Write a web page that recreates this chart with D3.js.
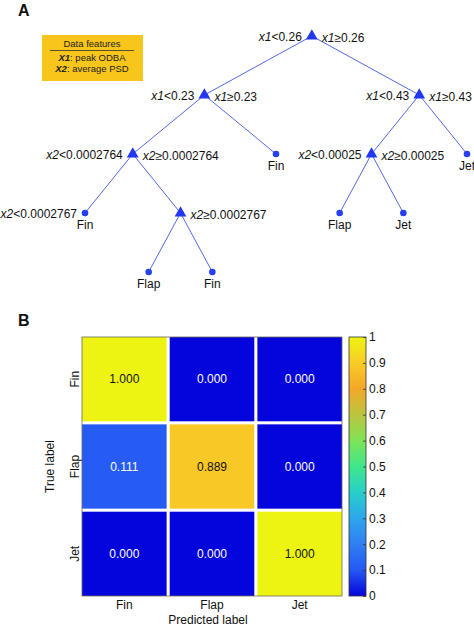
<!DOCTYPE html>
<html>
<head>
<meta charset="utf-8">
<script src="https://cdn.jsdelivr.net/npm/d3@7"></script>
<style>
  body { margin: 0; background: #fff; }
  svg { display: block; font-family: "Liberation Sans", Arial, sans-serif; }
  .branch { stroke: #5568e6; stroke-width: 1; fill: none; }
  .split-label, .leaf-label { font-size: 12px; fill: #111; }
  .cm-axis text { font-size: 12px; fill: #111; }
  .cm-axis path, .cm-axis line { stroke: #333; }
</style>
</head>
<body>
<svg id="viz"></svg>
<script>
(function () {
    // decision tree, listed depth first so children keep left-to-right order
    let treeNodes = [
        { id: 'a',  parent: null, feature: 'x1', cut: '0.26' },
        { id: 'b',  parent: 'a',  feature: 'x1', cut: '0.23' },
        { id: 'd',  parent: 'b',  feature: 'x2', cut: '0.0002764' },
        { id: 'l1', parent: 'd',  leaf: 'Fin' },
        { id: 'f',  parent: 'd',  feature: 'x2', cut: '0.0002767', leftLabelAt: 'l1' },
        { id: 'l2', parent: 'f',  leaf: 'Flap' },
        { id: 'l3', parent: 'f',  leaf: 'Fin' },
        { id: 'l4', parent: 'b',  leaf: 'Fin' },
        { id: 'c',  parent: 'a',  feature: 'x1', cut: '0.43' },
        { id: 'e',  parent: 'c',  feature: 'x2', cut: '0.00025' },
        { id: 'l5', parent: 'e',  leaf: 'Flap' },
        { id: 'l6', parent: 'e',  leaf: 'Jet' },
        { id: 'l7', parent: 'c',  leaf: 'Jet' }
    ]
    let featureNotes = [
        { name: 'X1', text: ': peak ODBA' },
        { name: 'X2', text: ': average PSD' }
    ]

    // confusion matrix
    let classes = ['Fin', 'Flap', 'Jet']
    let confusion = [
        [1.000, 0.000, 0.000],
        [0.111, 0.889, 0.000],
        [0.000, 0.000, 1.000]
    ]
    let colorStops = [0, 0.1, 0.2, 0.3, 0.4, 0.5, 0.6, 0.7, 0.8, 0.9, 1]
    let colorValues = ['#0404dc', '#2558f4', '#2f7ff2', '#2ea6ec', '#27cfc9', '#3fe68c',
                       '#7fe357', '#bcc53e', '#f4a729', '#f8cc26', '#eef412']

    let config = {
        w: 474,
        h: 629,
        tree: { left: 85, right: 467, top: 36, levelGap: 59 },
        cm: { left: 82, right: 342, top: 337, bottom: 596 },
        bar: { left: 349, right: 366 }
    }

    let svg = d3.select('#viz')
        .attr('width', config.w)
        .attr('height', config.h)

    function drawPanelLetter(letter, x, y) {
        svg.append('text')
            .attr('x', x).attr('y', y)
            .attr('font-size', 16)
            .attr('font-weight', 'bold')
            .attr('fill', '#111')
            .text(letter)
    }

    function drawTree() {
        let root = d3.stratify().id(d => d.id).parentId(d => d.parent)(treeNodes)
        let leaves = root.leaves()
        let xLeaf = d3.scalePoint()
            .domain(leaves.map(n => n.id))
            .range([config.tree.left, config.tree.right])
        let yLevel = d3.scaleLinear()
            .domain([0, 1])
            .range([config.tree.top, config.tree.top + config.tree.levelGap])

        root.eachAfter(n => {
            n.x = n.children ? d3.mean(n.children, c => c.x) : xLeaf(n.id)
            n.y = yLevel(n.depth)
        })
        let byId = {}
        root.each(n => { byId[n.id] = n })

        let g = svg.append('g')

        g.selectAll('line.branch')
            .data(root.links())
            .join('line')
            .classed('branch', true)
            .attr('x1', l => l.source.x).attr('y1', l => l.source.y)
            .attr('x2', l => l.target.x).attr('y2', l => l.target.y)

        let splits = root.descendants().filter(n => n.children)
        let leafs = root.descendants().filter(n => !n.children)

        g.selectAll('path.node')
            .data(splits)
            .join('path')
            .attr('d', d3.symbol(d3.symbolTriangle, 60))
            .attr('transform', n => `translate(${n.x},${n.y})`)
            .attr('fill', '#2137f1')

        g.selectAll('circle.leaf')
            .data(leafs)
            .join('circle')
            .attr('cx', n => n.x).attr('cy', n => n.y)
            .attr('r', 3.3)
            .attr('fill', '#2440ef')

        g.selectAll('text.leaf-label')
            .data(leafs)
            .join('text')
            .classed('leaf-label', true)
            .attr('x', n => n.x)
            .attr('y', n => n.y + 16)
            .attr('text-anchor', 'middle')
            .text(n => n.data.leaf)

        splits.forEach(n => {
            let anchor = n.data.leftLabelAt ? byId[n.data.leftLabelAt] : n
            let gap = n.data.leftLabelAt ? 8 : 10
            let lt = g.append('text')
                .classed('split-label', true)
                .attr('x', anchor.x - gap)
                .attr('y', anchor.y + 5)
                .attr('text-anchor', 'end')
            lt.append('tspan').attr('font-style', 'italic').text(n.data.feature)
            lt.append('tspan').text('<' + n.data.cut)

            let rt = g.append('text')
                .classed('split-label', true)
                .attr('x', n.x + 10)
                .attr('y', n.y + 6)
            rt.append('tspan').attr('font-style', 'italic').text(n.data.feature)
            rt.append('tspan').text('\u2265' + n.data.cut)
        })

        // feature legend box
        let box = svg.append('g')
        box.append('rect')
            .attr('x', 42).attr('y', 35)
            .attr('width', 101).attr('height', 46)
            .attr('fill', '#f8c51a')
        box.append('text')
            .attr('x', 92).attr('y', 47)
            .attr('text-anchor', 'middle')
            .attr('font-size', 9.5)
            .attr('fill', '#222')
            .text('Data features')
        box.append('line')
            .attr('x1', 50).attr('x2', 134)
            .attr('y1', 50.5).attr('y2', 50.5)
            .attr('stroke', '#333').attr('stroke-width', 0.8)
        featureNotes.forEach((f, i) => {
            let t = box.append('text')
                .attr('x', 92).attr('y', 61 + i * 10.5)
                .attr('text-anchor', 'middle')
                .attr('font-size', 9.5)
                .attr('fill', '#222')
            t.append('tspan').attr('font-style', 'italic').attr('font-weight', 'bold').text(f.name)
            t.append('tspan').text(f.text)
        })
    }

    function drawConfusion() {
        let cm = config.cm
        let xBand = d3.scaleBand().domain(classes).range([cm.left, cm.right]).paddingInner(0.035)
        let yBand = d3.scaleBand().domain(classes).range([cm.top, cm.bottom]).paddingInner(0.035)
        let color = d3.scaleLinear().domain(colorStops).range(colorValues).clamp(true)

        let cells = []
        confusion.forEach((row, i) => row.forEach((v, j) => {
            cells.push({ trueCls: classes[i], predCls: classes[j], value: v })
        }))

        let g = svg.append('g')
        g.append('rect')
            .attr('x', cm.left).attr('y', cm.top)
            .attr('width', cm.right - cm.left).attr('height', cm.bottom - cm.top)
            .attr('fill', '#fff')

        g.selectAll('rect.cell')
            .data(cells)
            .join('rect')
            .attr('x', d => xBand(d.predCls))
            .attr('y', d => yBand(d.trueCls))
            .attr('width', xBand.bandwidth())
            .attr('height', yBand.bandwidth())
            .attr('fill', d => color(d.value))

        g.selectAll('text.cell-value')
            .data(cells)
            .join('text')
            .attr('x', d => xBand(d.predCls) + xBand.bandwidth() / 2)
            .attr('y', d => yBand(d.trueCls) + yBand.bandwidth() / 2)
            .attr('dy', '0.36em')
            .attr('text-anchor', 'middle')
            .attr('font-size', 12)
            .attr('fill', d => d.value < 0.5 ? '#fff' : '#111')
            .text(d => d3.format('.3f')(d.value))

        g.append('rect')
            .attr('x', cm.left).attr('y', cm.top)
            .attr('width', cm.right - cm.left).attr('height', cm.bottom - cm.top)
            .attr('fill', 'none')
            .attr('stroke', '#6b6b5a').attr('stroke-width', 0.8)

        let xAxis = svg.append('g')
            .classed('cm-axis', true)
            .attr('transform', `translate(0,${cm.bottom})`)
            .call(d3.axisBottom(xBand).tickSize(0).tickPadding(4))
        xAxis.select('.domain').remove()

        svg.append('g')
            .classed('cm-axis', true)
            .selectAll('text')
            .data(classes)
            .join('text')
            .attr('transform', d => `translate(79,${yBand(d) + yBand.bandwidth() / 2}) rotate(-90)`)
            .attr('text-anchor', 'middle')
            .text(d => d)

        svg.append('text')
            .attr('x', (cm.left + cm.right) / 2 - 4)
            .attr('y', 624)
            .attr('text-anchor', 'middle')
            .attr('font-size', 12)
            .attr('fill', '#111')
            .text('Predicted label')
        svg.append('text')
            .attr('transform', `translate(54,${(cm.top + cm.bottom) / 2}) rotate(-90)`)
            .attr('text-anchor', 'middle')
            .attr('font-size', 12)
            .attr('fill', '#111')
            .text('True label')

        // colour bar
        let bar = config.bar
        let grad = svg.append('defs').append('linearGradient')
            .attr('id', 'cbar')
            .attr('x1', 0).attr('x2', 0).attr('y1', 1).attr('y2', 0)
        grad.selectAll('stop')
            .data(colorStops)
            .join('stop')
            .attr('offset', d => d)
            .attr('stop-color', d => color(d))
        svg.append('rect')
            .attr('x', bar.left).attr('y', cm.top)
            .attr('width', bar.right - bar.left).attr('height', cm.bottom - cm.top)
            .attr('fill', 'url(#cbar)')
            .attr('stroke', '#333').attr('stroke-width', 0.8)

        let yBar = d3.scaleLinear().domain([0, 1]).range([cm.bottom, cm.top])
        let barAxis = svg.append('g')
            .classed('cm-axis', true)
            .attr('transform', `translate(${bar.right},0)`)
            .call(d3.axisRight(yBar)
                .ticks(10)
                .tickFormat(d => (d === 0 || d === 1) ? d : d.toFixed(1))
                .tickSizeInner(-3).tickSizeOuter(0).tickPadding(3))
        barAxis.select('.domain').remove()
        barAxis.selectAll('line').attr('stroke', '#444').attr('stroke-width', 0.8)
    }

    drawPanelLetter('A', 18, 16)
    drawTree()
    drawPanelLetter('B', 18, 326)
    drawConfusion()
})()
</script>
</body>
</html>
